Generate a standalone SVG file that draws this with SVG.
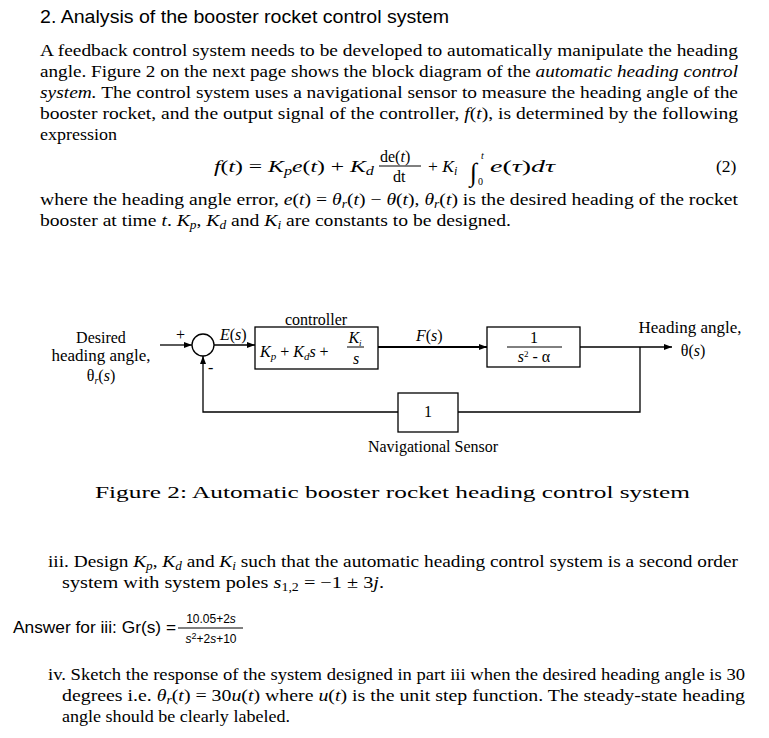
<svg xmlns="http://www.w3.org/2000/svg" width="769" height="738" viewBox="0 0 769 738">
<defs><marker id="a" markerWidth="8" markerHeight="6" refX="8" refY="3" orient="auto" markerUnits="userSpaceOnUse"><path d="M0,0L8,3L0,6z" fill="#000"/></marker></defs>
<style>
.s{font-family:"Liberation Sans",sans-serif}
.t{font-family:"Liberation Serif",serif;font-size:17.5px}
.b{font-family:"Liberation Serif",serif;font-size:16px}
.i{font-style:italic}
.l{stroke:#000;stroke-width:1.3;fill:none}
</style>
<rect width="769" height="738" fill="#fff"/>
<text class="s" x="40" y="23" font-size="18.5" textLength="409" lengthAdjust="spacingAndGlyphs">2. Analysis of the booster rocket control system</text>
<g class="t">
<text x="40" y="56" textLength="698" lengthAdjust="spacingAndGlyphs">A feedback control system needs to be developed to automatically manipulate the heading</text>
<text x="40" y="77" textLength="698" lengthAdjust="spacingAndGlyphs">angle. Figure 2 on the next page shows the block diagram of the <tspan class="i">automatic heading control</tspan></text>
<text x="40" y="98" textLength="698" lengthAdjust="spacingAndGlyphs"><tspan class="i">system.</tspan> The control system uses a navigational sensor to measure the heading angle of the</text>
<text x="40" y="119" textLength="698" lengthAdjust="spacingAndGlyphs">booster rocket, and the output signal of the controller, <tspan class="i">f</tspan>(<tspan class="i">t</tspan>), is determined by the following</text>
<text x="40" y="140" textLength="77" lengthAdjust="spacingAndGlyphs">expression</text>
<text x="214" y="172" textLength="160" lengthAdjust="spacingAndGlyphs"><tspan class="i">f</tspan>(<tspan class="i">t</tspan>) = <tspan class="i">K<tspan font-size="12" dy="3">p</tspan></tspan><tspan dy="-3"><tspan class="i">e</tspan>(<tspan class="i">t</tspan>) + <tspan class="i">K<tspan font-size="12" dy="3">d</tspan></tspan></tspan></text>
<text x="380" y="162" font-size="16">de(<tspan class="i">t</tspan>)</text>
<line x1="379" y1="166" x2="421" y2="166" stroke="#000"/>
<text x="393" y="182" font-size="16">dt</text>
<text x="428" y="172">+ <tspan class="i">K<tspan font-size="12" dy="3">i</tspan></tspan></text>
<text x="470" y="181" font-size="26">∫</text>
<text x="481" y="159" font-size="10" class="i">t</text>
<text x="478" y="185" font-size="10">0</text>
<text x="490" y="172" textLength="65" lengthAdjust="spacingAndGlyphs"><tspan class="i">e</tspan>(<tspan class="i">τ</tspan>)<tspan class="i">dτ</tspan></text>
<text x="716" y="172">(2)</text>
<text x="40" y="205" textLength="698" lengthAdjust="spacingAndGlyphs">where the heading angle error, <tspan class="i">e</tspan>(<tspan class="i">t</tspan>) = <tspan class="i">θ<tspan font-size="12" dy="3">r</tspan></tspan><tspan dy="-3">(<tspan class="i">t</tspan>) − <tspan class="i">θ</tspan>(<tspan class="i">t</tspan>), <tspan class="i">θ<tspan font-size="12" dy="3">r</tspan></tspan></tspan><tspan dy="-3">(<tspan class="i">t</tspan>) is the desired heading of the rocket</tspan></text>
<text x="40" y="226" textLength="471" lengthAdjust="spacingAndGlyphs">booster at time <tspan class="i">t</tspan>. <tspan class="i">K<tspan font-size="12" dy="3">p</tspan></tspan><tspan dy="-3">, <tspan class="i">K<tspan font-size="12" dy="3">d</tspan></tspan></tspan><tspan dy="-3"> and <tspan class="i">K<tspan font-size="12" dy="3">i</tspan></tspan></tspan><tspan dy="-3"> are constants to be designed.</tspan></text>
</g>
<g id="connectors" class="l">
<line x1="160" y1="345" x2="192" y2="345" marker-end="url(#a)"/>
<line x1="214" y1="345" x2="255" y2="345" marker-end="url(#a)"/>
<line x1="378" y1="347" x2="487" y2="347" stroke-width="2" marker-end="url(#a)"/>
<line x1="580" y1="347" x2="672" y2="347" marker-end="url(#a)"/>
<polyline points="640,347 640,412 458,412"/>
<polyline points="398,412 203,412 203,356" marker-end="url(#a)"/>
</g>
<g id="input" class="b" text-anchor="middle">
<text x="101" y="343">Desired</text>
<text x="101" y="361" font-size="17">heading angle,</text>
<text x="101" y="381">θ<tspan font-size="10" dy="3" class="i">r</tspan><tspan dy="-3">(<tspan class="i">s</tspan>)</tspan></text>
</g>
<g id="sum"><circle cx="203" cy="345" r="11" fill="#fff" stroke="#000" stroke-width="1.3"/>
<text class="b" x="176" y="340">+</text><text class="b" x="208" y="373">-</text>
<text class="b" x="220" y="340"><tspan class="i">E</tspan>(<tspan class="i">s</tspan>)</text></g>
<g id="controller">
<rect x="255" y="327" width="123" height="42" fill="#fff" stroke="#000" stroke-width="1.3"/>
<text class="b" x="316" y="325" text-anchor="middle">controller</text>
<text class="b" x="260" y="357" font-size="17"><tspan class="i">K<tspan font-size="11" dy="3">p</tspan></tspan><tspan dy="-3"> + </tspan><tspan class="i">K<tspan font-size="11" dy="3">d</tspan></tspan><tspan dy="-3"><tspan class="i">s</tspan> +</tspan></text>
<text class="b i" x="355" y="343" text-anchor="middle">K<tspan font-size="9" dy="3">i</tspan></text>
<line x1="347" y1="347" x2="364" y2="347" stroke="#000"/>
<text class="b i" x="356" y="364" text-anchor="middle">s</text>
</g>
<text class="b" x="416" y="341"><tspan class="i">F</tspan>(<tspan class="i">s</tspan>)</text>
<g id="plant">
<rect x="487" y="327" width="93" height="40" fill="#fff" stroke="#000" stroke-width="1.3"/>
<text class="b" x="534" y="343" text-anchor="middle" font-size="13">1</text>
<line x1="507" y1="347" x2="562" y2="347" stroke="#000"/>
<text class="b" x="534" y="362" text-anchor="middle" font-size="13"><tspan class="i">s</tspan><tspan font-size="9" dy="-5">2</tspan><tspan dy="5"> - α</tspan></text>
</g>
<g id="output" class="b" text-anchor="middle">
<text x="690" y="333" font-size="17">Heading angle,</text>
<text x="693" y="356">θ(<tspan class="i">s</tspan>)</text>
</g>
<g id="sensor">
<rect x="398" y="393" width="60" height="39" fill="#fff" stroke="#000" stroke-width="1.3"/>
<text class="b" x="428" y="417" text-anchor="middle" font-size="13">1</text>
<text class="b" x="433" y="452" text-anchor="middle">Navigational Sensor</text>
</g>
<text class="t" x="95" y="498" font-size="21.5" textLength="595" lengthAdjust="spacingAndGlyphs">Figure 2: Automatic booster rocket heading control system</text>
<g class="t">
<text x="48" y="567" textLength="690" lengthAdjust="spacingAndGlyphs">iii. Design <tspan class="i">K<tspan font-size="12" dy="3">p</tspan></tspan><tspan dy="-3">, <tspan class="i">K<tspan font-size="12" dy="3">d</tspan></tspan></tspan><tspan dy="-3"> and <tspan class="i">K<tspan font-size="12" dy="3">i</tspan></tspan></tspan><tspan dy="-3"> such that the automatic heading control system is a second order</tspan></text>
<text x="62" y="588" textLength="322" lengthAdjust="spacingAndGlyphs">system with system poles <tspan class="i">s</tspan><tspan font-size="12" dy="3">1,2</tspan><tspan dy="-3"> = −1 ± 3<tspan class="i">j</tspan>.</tspan></text>
</g>
<text class="s" x="13" y="633" font-size="16" textLength="163" lengthAdjust="spacingAndGlyphs">Answer for iii:  Gr(s) =</text>
<text class="s" x="211" y="623" font-size="12" text-anchor="middle">10.05+2<tspan font-style="italic">s</tspan></text>
<line x1="178" y1="628" x2="243" y2="628" stroke="#000"/>
<text class="s" x="211" y="643" font-size="12" text-anchor="middle"><tspan font-style="italic">s</tspan><tspan font-size="9" dy="-4">2</tspan><tspan dy="4">+2<tspan font-style="italic">s</tspan>+10</tspan></text>
<g class="t">
<text x="48" y="680" textLength="697" lengthAdjust="spacingAndGlyphs">iv. Sketch the response of the system designed in part iii when the desired heading angle is 30</text>
<text x="62" y="701" textLength="683" lengthAdjust="spacingAndGlyphs">degrees i.e. <tspan class="i">θ<tspan font-size="12" dy="3">r</tspan></tspan><tspan dy="-3">(<tspan class="i">t</tspan>) = 30<tspan class="i">u</tspan>(<tspan class="i">t</tspan>) where <tspan class="i">u</tspan>(<tspan class="i">t</tspan>) is the unit step function. The steady-state heading</tspan></text>
<text x="62" y="722" textLength="228" lengthAdjust="spacingAndGlyphs">angle should be clearly labeled.</text>
</g>
</svg>
